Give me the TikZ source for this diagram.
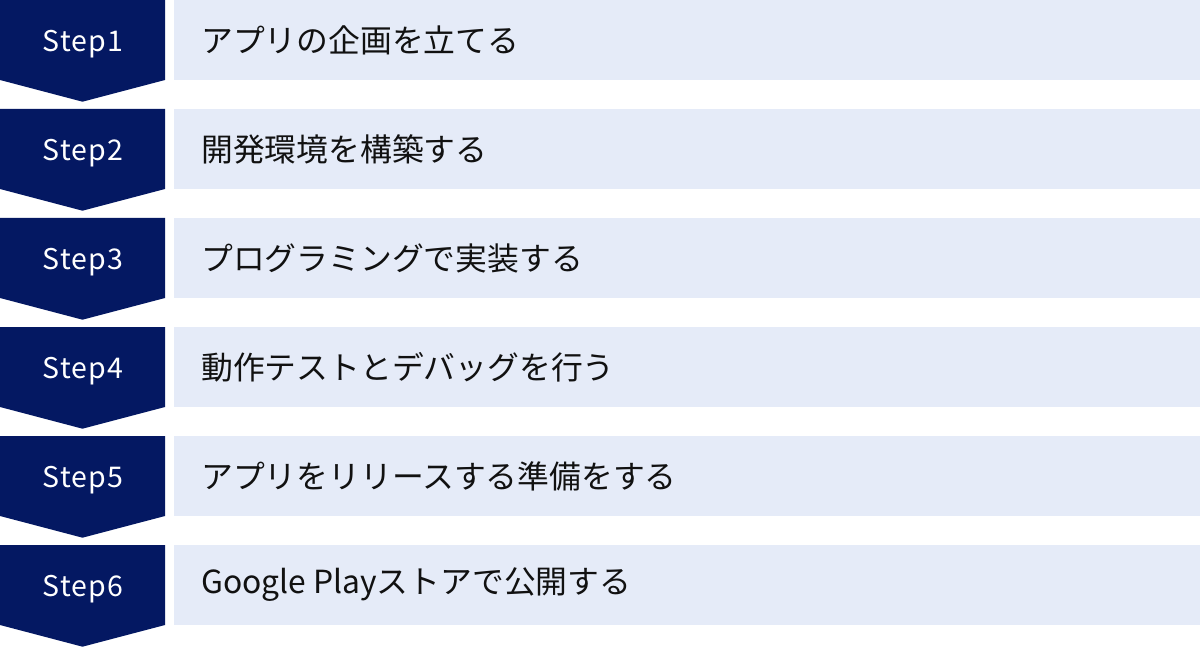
\documentclass[tikz,border=0pt]{standalone}
\usepackage{fontspec}
\setmainfont{Noto Sans CJK JP}
\definecolor{navy}{HTML}{041862}
\definecolor{pale}{HTML}{E5EBF8}
\definecolor{ink}{HTML}{111111}
\begin{document}
\begin{tikzpicture}[x=1pt,y=1pt,
  stepshape/.style={fill=navy,draw=none},
  stepname/.style={text=white,font=\fontsize{28.5}{28.5}\selectfont\addfontfeature{LetterSpace=4},anchor=base,inner sep=0pt},
  taskbox/.style={fill=pale,draw=none,minimum width=1026pt,minimum height=80pt,anchor=north west,inner sep=0pt},
  tasktext/.style={text=ink,font=\fontsize{31.8}{31.8}\selectfont,anchor=west,inner sep=0pt}]
\useasboundingbox (0,0) rectangle (1200,-647);
\foreach \i/\t in {1/{アプリの企画を立てる},2/{開発環境を構築する},3/{プログラミングで実装する},4/{動作テストとデバッグを行う},5/{アプリをリリースする準備をする},6/{Google Playストアで公開する}}{
  \pgfmathsetmacro{\top}{-109*(\i-1)}
  \fill[stepshape] (0,\top) -- (165,\top) -- (165,\top-80) -- (82.5,\top-101.7) -- (0,\top-80) -- cycle;
  \node[stepname] (s\i) at (83,\top-51.7) {Step\i};
  \node[taskbox] (b\i) at (174,\top) {};
  \node[tasktext] (t\i) at (201,\top-40) {\t};
}
\end{tikzpicture}
\end{document}
